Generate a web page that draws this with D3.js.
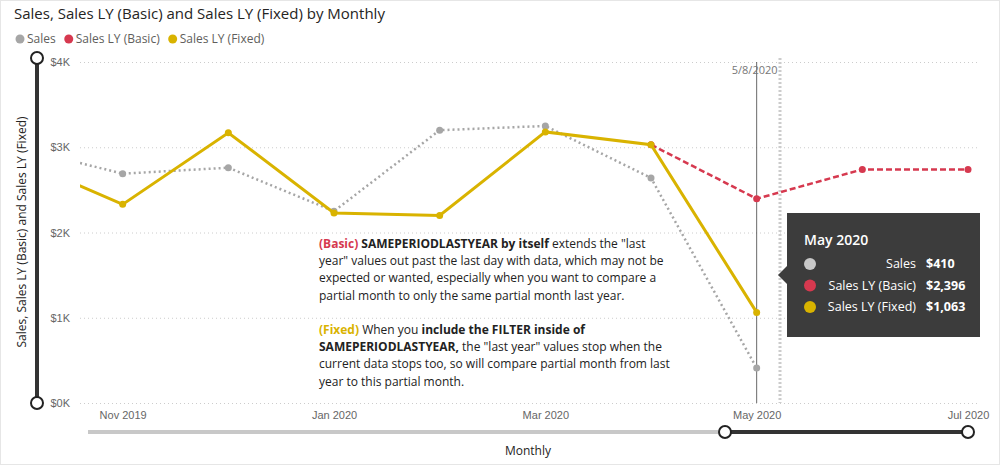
<!DOCTYPE html>
<html>
<meta charset="utf-8">
<head>
<style>
body { margin:0; background:#fff; font-family:"Segoe UI","Open Sans",sans-serif; }
.tick text { fill:#666; font-size:11px; }
.ann { font-size:12px; fill:#222; }
</style>
</head>
<body>
<script src="https://cdn.jsdelivr.net/npm/d3@7"></script>
<script>
// data (values in $K)
var months = ["Oct 2019","Nov 2019","Dec 2019","Jan 2020","Feb 2020","Mar 2020","Apr 2020","May 2020","Jun 2020","Jul 2020"];
var sales   = [3.00, 2.69, 2.76, 2.25, 3.20, 3.25, 2.64, 0.41, null, null];
var lyBasic = [2.87, 2.33, 3.17, 2.23, 2.20, 3.18, 3.03, 2.396, 2.74, 2.74];
var lyFixed = [2.87, 2.33, 3.17, 2.23, 2.20, 3.18, 3.03, 1.063, null, null];
var yTicks = [0, 1, 2, 3, 4];
var xLabels = ["Nov 2019","Jan 2020","Mar 2020","May 2020","Jul 2020"];

var W = 1000, H = 465;
var svg = d3.select("body").append("svg").attr("width", W).attr("height", H);

// frame
svg.append("rect").attr("x",0.5).attr("y",0.5).attr("width",W-1).attr("height",H-1)
  .attr("fill","none").attr("stroke","#e6e6e6");

svg.append("text").attr("x",14).attr("y",19).attr("font-size",15).attr("fill","#252423")
  .text("Sales, Sales LY (Basic) and Sales LY (Fixed) by Monthly");

// legend
var leg = [["Sales","#a6a6a6"],["Sales LY (Basic)","#d6394f"],["Sales LY (Fixed)","#d9b300"]];
var lx = 20;
leg.forEach(function(l){
  svg.append("circle").attr("cx",lx).attr("cy",39).attr("r",4.5).attr("fill",l[1]);
  var t = svg.append("text").attr("x",lx+7).attr("y",43).attr("font-size",12).attr("fill","#605e5c").text(l[0]);
  lx += t.node().getComputedTextLength() + 20;
});

var x = d3.scalePoint().domain(months).range([17, 968]);
var y = d3.scaleLinear().domain([0,4]).range([403, 62]);

var clip = svg.append("clipPath").attr("id","pc").append("rect")
  .attr("x",80).attr("y",40).attr("width",900).attr("height",380);

// gridlines and y axis
var yAxis = svg.append("g").attr("transform","translate(80,0)")
  .call(d3.axisLeft(y).tickValues(yTicks).tickFormat(function(d){return "$"+d+"K";}).tickSize(-900).tickPadding(10));
yAxis.select(".domain").remove();
yAxis.selectAll(".tick line").attr("stroke","#ccc").attr("stroke-dasharray","1,3");
yAxis.selectAll(".tick text").attr("x",-10);

var xAxis = svg.append("g").attr("transform","translate(0,403)")
  .call(d3.axisBottom(x).tickValues(xLabels).tickSize(0).tickPadding(8));
xAxis.select(".domain").remove();

svg.append("text").attr("transform","translate(26,232) rotate(-90)").attr("text-anchor","middle")
  .attr("font-size",12).attr("fill","#252423").text("Sales, Sales LY (Basic) and Sales LY (Fixed)");
svg.append("text").attr("x",528).attr("y",455).attr("text-anchor","middle")
  .attr("font-size",12).attr("fill","#252423").text("Monthly");

// reference lines
svg.append("line").attr("x1",x("May 2020")).attr("x2",x("May 2020")).attr("y1",62).attr("y2",403).attr("stroke","#444").attr("stroke-width",0.8);
svg.append("text").attr("x",x("May 2020")-2).attr("y",74).attr("text-anchor","middle").attr("font-size",11).attr("fill","#777").text("5/8/2020");
svg.append("line").attr("x1",780).attr("x2",780).attr("y1",58).attr("y2",403).attr("stroke","#ccc").attr("stroke-width",3).attr("stroke-dasharray","2,2");

// series
var plot = svg.append("g").attr("clip-path","url(#pc)");
function draw(vals, col, dash, width, from){
  var pts = months.map(function(m,i){return [m, vals[i], i];}).filter(function(d){return d[1]!=null && d[2]>=from;});
  plot.append("path").datum(pts).attr("fill","none").attr("stroke",col).attr("stroke-width",width)
    .attr("stroke-dasharray",dash)
    .attr("d", d3.line().x(function(d){return x(d[0]);}).y(function(d){return y(d[1]);}));
  plot.selectAll(null).data(pts.filter(function(d){return d[2]>0;})).enter().append("circle")
    .attr("cx",function(d){return x(d[0]);}).attr("cy",function(d){return y(d[1]);}).attr("r",3.5).attr("fill",col);
}
draw(sales, "#a6a6a6", "2,3", 2.5, 0);
draw(lyBasic, "#d6394f", "6,3", 2.5, 6);
draw(lyFixed, "#d9b300", null, 3, 0);

// annotation
var ann = svg.append("text").attr("class","ann");
var lines = [
  [["(Basic) ","#d6394f",700],["SAMEPERIODLASTYEAR by itself","#222",700],[" extends the \"last","#222",400]],
  [["year\" values out past the last day with data, which may not be","#222",400]],
  [["expected or wanted, especially when you want to compare a","#222",400]],
  [["partial month to only the same partial month last year.","#222",400]],
  [],
  [["(Fixed) ","#d9b300",700],["When you ","#222",400],["include the FILTER inside of","#222",700]],
  [["SAMEPERIODLASTYEAR,","#222",700],[" the \"last year\" values stop when the","#222",400]],
  [["current data stops too, so will compare partial month from last","#222",400]],
  [["year to this partial month.","#222",400]]
];
var ay = 248;
lines.forEach(function(ln,i){
  ln.forEach(function(seg,j){
    var ts = ann.append("tspan").attr("fill",seg[1]).attr("font-weight",seg[2]).text(seg[0]);
    if (j===0) ts.attr("x",319).attr("y",ay + i*17.2);
  });
});

// tooltip
var tt = svg.append("g").attr("transform","translate(787,213)");
tt.append("rect").attr("width",193).attr("height",124).attr("fill","#3c3c3c");
tt.append("path").attr("d","M0,62 l-9,9 l9,9 z").attr("fill","#3c3c3c").attr("transform","translate(0,-9)");
tt.append("text").attr("x",17).attr("y",32).attr("fill","#fff").attr("font-size",14).attr("font-weight",600).text("May 2020");
var rows = [["Sales","$410","#c8c8c8"],["Sales LY (Basic)","$2,396","#d6394f"],["Sales LY (Fixed)","$1,063","#d9b300"]];
rows.forEach(function(r,i){
  var ry = 55 + i*21.5;
  tt.append("circle").attr("cx",23).attr("cy",ry-4).attr("r",6).attr("fill",r[2]);
  tt.append("text").attr("x",129).attr("y",ry).attr("text-anchor","end").attr("fill","#fff").attr("font-size",12.5).text(r[0]);
  tt.append("text").attr("x",139).attr("y",ry).attr("fill","#fff").attr("font-size",12.5).attr("font-weight",700).text(r[1]);
});

// sliders
svg.append("line").attr("x1",37).attr("x2",37).attr("y1",58).attr("y2",403).attr("stroke","#333").attr("stroke-width",4);
[58,403].forEach(function(cy){
  svg.append("circle").attr("cx",37).attr("cy",cy).attr("r",6).attr("fill","#fff").attr("stroke","#222").attr("stroke-width",2);
});
svg.append("line").attr("x1",88).attr("x2",725).attr("y1",432).attr("y2",432).attr("stroke","#c8c8c8").attr("stroke-width",4);
svg.append("line").attr("x1",725).attr("x2",968).attr("y1",432).attr("y2",432).attr("stroke","#333").attr("stroke-width",4);
[725,968].forEach(function(cx){
  svg.append("circle").attr("cx",cx).attr("cy",432).attr("r",6).attr("fill","#fff").attr("stroke","#222").attr("stroke-width",2);
});
</script>
</body>
</html>
